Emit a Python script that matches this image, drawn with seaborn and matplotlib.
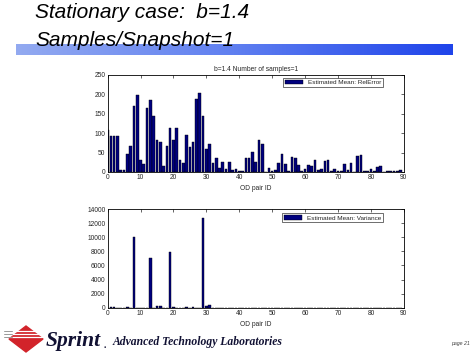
import numpy as np
import pandas as pd
import seaborn as sns
import matplotlib.pyplot as plt
from matplotlib.patches import Polygon
from matplotlib.colors import LinearSegmentedColormap

# OD pair ids and estimated values
od_ids = list(range(90))
rel_error = [107, 93, 93, 92, 5, 6, 46, 68, 170, 198,
             30, 20, 165, 185, 143, 82, 76, 15, 68, 113,
             82, 112, 30, 22, 96, 63, 76, 188, 202, 145,
             58, 72, 22, 37, 10, 25, 7, 25, 5, 7,
             2, 2, 35, 37, 51, 25, 82, 73, 0, 10,
             2, 5, 22, 45, 20, 2, 38, 35, 18, 2,
             8, 18, 15, 32, 6, 7, 27, 30, 3, 7,
             3, 3, 20, 5, 22, 0, 42, 43, 3, 3,
             8, 2, 14, 16, 0, 3, 3, 2, 3, 5]
variance = [20, 40, 150, 10, 5, 5, 80, 5, 10000, 10,
            5, 5, 10, 7100, 10, 250, 250, 20, 10, 7850,
            50, 10, 5, 5, 150, 5, 80, 5, 10, 12700,
            300, 450] + [0] * 58

title_lines = ["Stationary case:  b=1.4", "Samples/Snapshot=1"]
plot_title = "b=1.4 Number of samples=1"
xlab = "OD pair ID"
leg1 = "Estimated Mean: RelError"
leg2 = "Estimated Mean: Variance"

navy = "#00007f"
df = pd.DataFrame({"od": od_ids, "rel": rel_error, "var": variance})

sns.set_style("white")
plt.rcParams["font.family"] = ["Liberation Sans", "DejaVu Sans"]

fig = plt.figure(figsize=(4.74, 3.55), dpi=100)
fig.patch.set_facecolor("white")

# gradient rule under the heading
gax = fig.add_axes([16 / 474, 1 - 55 / 355, 437 / 474, 11 / 355])
cmap = LinearSegmentedColormap.from_list("rule", ["#93aaf0", "#5f7ff0", "#1f44ea"])
gax.imshow(np.linspace(0, 1, 256).reshape(1, -1), aspect="auto", cmap=cmap)
gax.set_axis_off()

# slide heading
fig.text(35 / 474, 1 - 13 / 355, title_lines[0], fontsize=15, style="italic",
         va="center", ha="left", color="black")
fig.text(35 / 474, 1 - 40 / 355, title_lines[1], fontsize=15, style="italic",
         va="center", ha="left", color="black", zorder=10)


def style_axes(ax, ymax, yticks, leg_top):
    ax.set_xlim(0, 90)
    ax.set_ylim(0, ymax)
    ax.set_xticks(range(0, 91, 10))
    ax.set_xticklabels([str(t) for t in range(0, 91, 10)])
    ax.set_yticks(yticks)
    ax.tick_params(direction="in", length=2.5, width=0.5, labelsize=4.8,
                   top=True, right=True, pad=1.5)
    for s in ax.spines.values():
        s.set_linewidth(0.6)
        s.set_color("black")
    ax.set_xlabel(xlab, fontsize=4.8, labelpad=3)
    ax.set_ylabel("")
    leg = ax.legend(loc="upper right", bbox_to_anchor=(0.93, leg_top),
                    fontsize=4.6, frameon=True, fancybox=False,
                    borderpad=0.3, handlelength=2.8, handleheight=0.8,
                    borderaxespad=0)
    leg.get_frame().set_edgecolor("black")
    leg.get_frame().set_linewidth(0.5)


ax1 = fig.add_axes([0.227, 0.5155, 0.625, 0.274])
sns.barplot(data=df, x="od", y="rel", native_scale=True, color=navy,
            saturation=1, edgecolor="black", linewidth=0.3, width=0.8,
            label=leg1, ax=ax1)
style_axes(ax1, 250, range(0, 251, 50), 0.97)
ax1.set_title(plot_title, fontsize=4.8, pad=3)

ax2 = fig.add_axes([0.227, 0.1332, 0.625, 0.278])
sns.barplot(data=df, x="od", y="var", native_scale=True, color=navy,
            saturation=1, edgecolor="black", linewidth=0.3, width=0.8,
            label=leg2, ax=ax2)
style_axes(ax2, 14000, range(0, 14001, 2000), 0.96)

# footer: Sprint logo and lab name
lax = fig.add_axes([0, 0, 1, 1], facecolor="none")
lax.set_xlim(0, 474)
lax.set_ylim(355, 0)
lax.set_axis_off()
lax.add_patch(Polygon([[26, 326], [43, 339], [26, 352], [9, 339]],
                      closed=True, color="#d2232a"))
for yy in [331, 334, 337]:
    lax.plot([4, 42], [yy, yy], color="white", lw=0.9)
    lax.plot([4, 12], [yy, yy], color="#999999", lw=0.7)
lax.text(46, 341, "Sprint", fontsize=15.5, family="Liberation Serif",
         weight="bold", style="italic", color="#111133", va="center")
lax.text(104, 345, ".", fontsize=7, family="Liberation Serif",
         weight="bold", color="#111133", va="center")
lax.text(113, 342, "Advanced Technology Laboratories", fontsize=8.4,
         family="Liberation Serif", weight="bold", style="italic",
         color="#111133", va="center")
lax.text(470, 344, "page 21", fontsize=3.8, style="italic", color="#444444",
         va="center", ha="right")

fig.savefig("out.png", dpi=100, facecolor="white")
